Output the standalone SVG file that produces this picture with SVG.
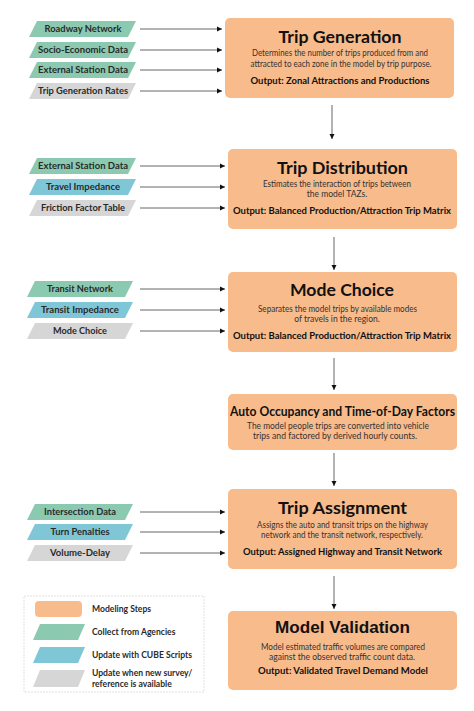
<svg xmlns="http://www.w3.org/2000/svg" width="474" height="711" viewBox="0 0 474 711">
<defs>
<marker id="ah" markerWidth="6" markerHeight="6" refX="5" refY="3" orient="auto" markerUnits="userSpaceOnUse">
<path d="M0,0.5 L5,3 L0,5.5 Z" fill="#111"/>
</marker>
<style>
.step{fill:#f8bb8c;}
.green{fill:#8bcab1;}
.blue{fill:#7fc7d7;}
.gray{fill:#d6d6d6;}
.title{font-family:Lato,"Open Sans",sans-serif;font-weight:bold;font-size:17px;fill:#111;text-anchor:middle;}
.title2{font-family:"Liberation Sans",Arial,sans-serif;font-weight:bold;font-size:17px;fill:#111;text-anchor:middle;}
.desc{font-family:Lato,"Open Sans",sans-serif;font-size:8.5px;fill:#333;text-anchor:middle;}
.out{font-family:Lato,"Open Sans",sans-serif;font-weight:bold;font-size:9px;fill:#111;text-anchor:middle;}
.in{font-family:Lato,"Open Sans",sans-serif;font-weight:bold;font-size:9px;fill:#2a2a2a;text-anchor:middle;}
.leg{font-family:Lato,"Open Sans",sans-serif;font-weight:bold;font-size:8.6px;fill:#2a2a2a;}
.conn{stroke:#555;stroke-width:0.9;fill:none;marker-end:url(#ah);}
</style>
</defs>
<rect width="474" height="711" fill="#fff"/>

<g id="connectors">
<line class="conn" x1="140" y1="29" x2="222" y2="29"/>
<line class="conn" x1="140" y1="50" x2="222" y2="50"/>
<line class="conn" x1="140" y1="70" x2="222" y2="70"/>
<line class="conn" x1="140" y1="91" x2="222" y2="91"/>
<line class="conn" x1="140" y1="166" x2="225" y2="166"/>
<line class="conn" x1="140" y1="187" x2="225" y2="187"/>
<line class="conn" x1="140" y1="208" x2="225" y2="208"/>
<line class="conn" x1="140" y1="289" x2="225" y2="289"/>
<line class="conn" x1="140" y1="310" x2="225" y2="310"/>
<line class="conn" x1="140" y1="331" x2="225" y2="331"/>
<line class="conn" x1="140" y1="512" x2="225" y2="512"/>
<line class="conn" x1="140" y1="532" x2="225" y2="532"/>
<line class="conn" x1="140" y1="553" x2="225" y2="553"/>
<line class="conn" x1="332" y1="105" x2="332" y2="139"/>
<line class="conn" x1="334" y1="237" x2="334" y2="270"/>
<line class="conn" x1="334" y1="358" x2="334" y2="390"/>
<line class="conn" x1="334" y1="453" x2="334" y2="486"/>
<line class="conn" x1="334" y1="576" x2="334" y2="609"/>
</g>

<g id="in-roadway"><polygon class="green" points="37,21 136,21 128,37 29,37"/><text class="in" x="83" y="32.2" textLength="77" lengthAdjust="spacingAndGlyphs">Roadway Network</text></g>
<g id="in-socio"><polygon class="green" points="37,42 136,42 128,58 29,58"/><text class="in" x="83" y="53.2" textLength="90" lengthAdjust="spacingAndGlyphs">Socio-Economic Data</text></g>
<g id="in-external1"><polygon class="green" points="37,62 136,62 128,78 29,78"/><text class="in" x="83" y="73.2" textLength="90" lengthAdjust="spacingAndGlyphs">External Station Data</text></g>
<g id="in-triprates"><polygon class="gray" points="37,83 136,83 128,99 29,99"/><text class="in" x="83" y="94.2" textLength="90" lengthAdjust="spacingAndGlyphs">Trip Generation Rates</text></g>

<g id="in-external2"><polygon class="green" points="37,158 136,158 128,174 29,174"/><text class="in" x="83" y="169.2" textLength="90" lengthAdjust="spacingAndGlyphs">External Station Data</text></g>
<g id="in-travelimp"><polygon class="blue" points="37,179 136,179 128,195 29,195"/><text class="in" x="83" y="190.2" textLength="74" lengthAdjust="spacingAndGlyphs">Travel Impedance</text></g>
<g id="in-friction"><polygon class="gray" points="37,200 136,200 128,216 29,216"/><text class="in" x="83" y="211.2" textLength="84" lengthAdjust="spacingAndGlyphs">Friction Factor Table</text></g>

<g id="in-transitnet"><polygon class="green" points="35,281 133,281 125,297 27,297"/><text class="in" x="80" y="292.2" textLength="66" lengthAdjust="spacingAndGlyphs">Transit Network</text></g>
<g id="in-transitimp"><polygon class="blue" points="35,302 133,302 125,318 27,318"/><text class="in" x="80" y="313.2" textLength="78" lengthAdjust="spacingAndGlyphs">Transit Impedance</text></g>
<g id="in-modechoice"><polygon class="gray" points="35,323 133,323 125,339 27,339"/><text class="in" x="80" y="334.2" textLength="54" lengthAdjust="spacingAndGlyphs">Mode Choice</text></g>

<g id="in-intersection"><polygon class="green" points="35,504 133,504 125,520 27,520"/><text class="in" x="80" y="515.2" textLength="72" lengthAdjust="spacingAndGlyphs">Intersection Data</text></g>
<g id="in-turn"><polygon class="blue" points="35,524 133,524 125,540 27,540"/><text class="in" x="80" y="535.2" textLength="59" lengthAdjust="spacingAndGlyphs">Turn Penalties</text></g>
<g id="in-volume"><polygon class="gray" points="35,545 133,545 125,561 27,561"/><text class="in" x="80" y="556.2" textLength="60" lengthAdjust="spacingAndGlyphs">Volume-Delay</text></g>

<g id="trip-generation">
<rect class="step" x="225" y="18" width="229" height="80" rx="5"/>
<text class="title" x="340" y="43" textLength="123" lengthAdjust="spacingAndGlyphs">Trip Generation</text>
<text class="desc" x="340" y="56" textLength="176" lengthAdjust="spacingAndGlyphs">Determines the number of trips produced from and</text>
<text class="desc" x="341" y="67" textLength="181" lengthAdjust="spacingAndGlyphs">attracted to each zone in the model by trip purpose.</text>
<text class="out" x="340" y="84" textLength="179" lengthAdjust="spacingAndGlyphs">Output: Zonal Attractions and Productions</text>
</g>

<g id="trip-distribution">
<rect class="step" x="228" y="149" width="229" height="80" rx="5"/>
<text class="title" x="342.5" y="174" textLength="131" lengthAdjust="spacingAndGlyphs">Trip Distribution</text>
<text class="desc" x="337" y="187" textLength="148" lengthAdjust="spacingAndGlyphs">Estimates the interaction of trips between</text>
<text class="desc" x="337" y="197">the model TAZs.</text>
<text class="out" x="342" y="214" textLength="218" lengthAdjust="spacingAndGlyphs">Output: Balanced Production/Attraction Trip Matrix</text>
</g>

<g id="mode-choice">
<rect class="step" x="228" y="272" width="229" height="80" rx="5"/>
<text class="title" x="342" y="296" textLength="104" lengthAdjust="spacingAndGlyphs">Mode Choice</text>
<text class="desc" x="337.5" y="312" textLength="159" lengthAdjust="spacingAndGlyphs">Separates the model trips by available modes</text>
<text class="desc" x="337" y="322">of travels in the region.</text>
<text class="out" x="342" y="339" textLength="218" lengthAdjust="spacingAndGlyphs">Output: Balanced Production/Attraction Trip Matrix</text>
</g>

<g id="auto-occupancy">
<rect class="step" x="228" y="394" width="229" height="56" rx="5"/>
<text class="title" x="342.5" y="415.5" style="font-size:12.5px" textLength="225" lengthAdjust="spacingAndGlyphs">Auto Occupancy and Time-of-Day Factors</text>
<text class="desc" x="338" y="429" textLength="182" lengthAdjust="spacingAndGlyphs">The model people trips are converted into vehicle</text>
<text class="desc" x="335" y="439" textLength="164" lengthAdjust="spacingAndGlyphs">trips and factored by derived hourly counts.</text>
</g>

<g id="trip-assignment">
<rect class="step" x="228" y="489" width="229" height="80" rx="5"/>
<text class="title" x="342.5" y="514" textLength="129" lengthAdjust="spacingAndGlyphs">Trip Assignment</text>
<text class="desc" x="342.5" y="528" textLength="171" lengthAdjust="spacingAndGlyphs">Assigns the auto and transit trips on the highway</text>
<text class="desc" x="342" y="538" textLength="162" lengthAdjust="spacingAndGlyphs">network and the transit network, respectively.</text>
<text class="out" x="342.5" y="555" textLength="199" lengthAdjust="spacingAndGlyphs">Output: Assigned Highway and Transit Network</text>
</g>

<g id="model-validation">
<rect class="step" x="228" y="611" width="229" height="79" rx="5"/>
<text class="title2" x="342.5" y="633" textLength="135" lengthAdjust="spacingAndGlyphs">Model Validation</text>
<text class="desc" x="343" y="650" textLength="164" lengthAdjust="spacingAndGlyphs">Model estimated traffic volumes are compared</text>
<text class="desc" x="342" y="660" textLength="146" lengthAdjust="spacingAndGlyphs">against the observed traffic count data.</text>
<text class="out" x="343" y="674" textLength="170" lengthAdjust="spacingAndGlyphs">Output: Validated Travel Demand Model</text>
</g>

<g id="legend">
<rect x="24" y="596" width="180" height="96" fill="#fff" stroke="#d8d8d8" stroke-width="0.8" stroke-dasharray="2,1"/>
<rect class="step" x="35" y="601" width="47" height="16" rx="4"/>
<polygon class="green" points="40,624 85,624 78,640 33,640"/>
<polygon class="blue" points="40,647 85,647 78,663 33,663"/>
<polygon class="gray" points="40,670 85,670 78,687 33,687"/>
<text class="leg" x="92" y="612">Modeling Steps</text>
<text class="leg" x="92" y="635">Collect from Agencies</text>
<text class="leg" x="92" y="658">Update with CUBE Scripts</text>
<text class="leg" x="92" y="676">Update when new survey/</text>
<text class="leg" x="92" y="687">reference is available</text>
</g>
</svg>
